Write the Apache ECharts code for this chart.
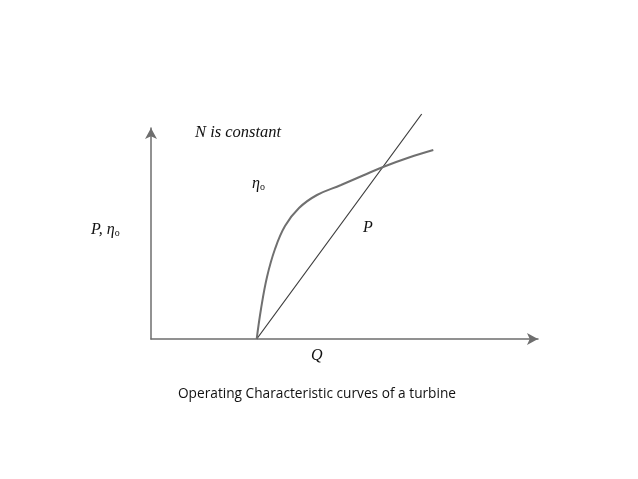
<!DOCTYPE html>
<html><head><meta charset="utf-8">
<script src="https://cdn.jsdelivr.net/npm/echarts@6/dist/echarts.min.js"></script>
<style>html,body{margin:0;padding:0;background:#fff}#c{width:638px;height:479px}</style>
</head><body><div id="c"></div>
<script>
// Flow rate Q (relative units) and outputs
const powerQ = [105.7, 270.7];
const powerP = [0, 225];
const effQ = [105.7, 110, 116, 124, 134, 148, 166, 190, 212, 233.3, 258, 282.3];
const effEta = [0, 30, 62, 90, 113, 131, 144, 154, 163.5, 172.5, 181.5, 189];

const chart = echarts.init(document.getElementById('c'));
const serif = '"Liberation Serif", "DejaVu Serif", serif';
const sub = { fontFamily: serif, fontSize: 10, fill: '#111', padding: [7, 0, 0, 0] };
chart.setOption({
  backgroundColor: '#fff',
  animation: false,
  title: {
    text: 'Operating Characteristic curves of a turbine',
    left: 312, top: 382, textAlign: 'center',
    textStyle: { fontFamily: '"Open Sans", "Liberation Sans", sans-serif', fontSize: 13.7, fontWeight: 'normal', color: '#111' }
  },
  grid: { left: 151, right: 100, top: 128, bottom: 140 },
  xAxis: {
    type: 'value', min: 0, max: 387,
    axisLine: { lineStyle: { color: '#6e6e6e', width: 1.5 }, symbol: ['none', 'arrow'], symbolSize: [9, 11] },
    axisTick: { show: false }, axisLabel: { show: false }, splitLine: { show: false }
  },
  yAxis: {
    type: 'value', min: 0, max: 211,
    axisLine: { lineStyle: { color: '#6e6e6e', width: 1.5 }, symbol: ['none', 'arrow'], symbolSize: [9, 11] },
    axisTick: { show: false }, axisLabel: { show: false }, splitLine: { show: false }
  },
  graphic: [
    { type: 'text', left: 195, top: 124, style: { text: 'N is constant', font: 'italic 16.5px ' + serif, fill: '#111' } },
    { type: 'text', left: 252, top: 176, style: { text: '{a|η}{b|o}', rich: { a: { fontFamily: serif, fontStyle: 'italic', fontSize: 16, fill: '#111' }, b: sub } } },
    { type: 'text', left: 91, top: 222, style: { text: '{a|P, η}{b|o}', rich: { a: { fontFamily: serif, fontStyle: 'italic', fontSize: 16, fill: '#111' }, b: sub } } },
    { type: 'text', left: 363, top: 220, style: { text: 'P', font: 'italic 16px ' + serif, fill: '#111' } },
    { type: 'text', left: 311, top: 348, style: { text: 'Q', font: 'italic 16px ' + serif, fill: '#111' } }
  ],
  series: [
    {
      type: 'line', name: 'P', clip: false, showSymbol: false,
      data: powerQ.map((q, i) => [q, powerP[i]]),
      lineStyle: { color: '#3a3a3a', width: 1.2 }
    },
    {
      type: 'line', name: 'eta', clip: false, showSymbol: false, smooth: 0.4,
      data: effQ.map((q, i) => [q, effEta[i]]),
      lineStyle: { color: '#707070', width: 2 }
    }
  ]
});
</script></body></html>
